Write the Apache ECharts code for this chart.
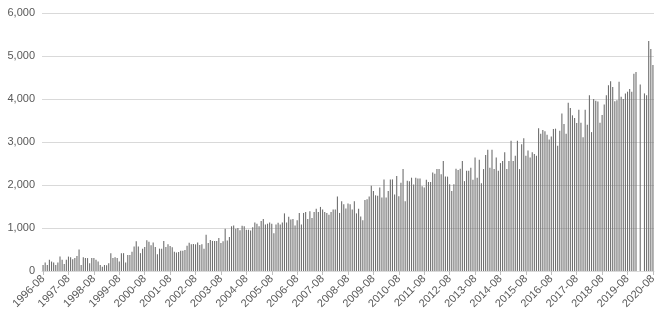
<!DOCTYPE html>
<html>
<head>
<meta charset="utf-8">
<script src="https://cdn.jsdelivr.net/npm/echarts@6/dist/echarts.min.js"></script>
<style>
html,body{margin:0;padding:0;background:#fff;}
#chart{width:661px;height:324px;}
</style>
</head>
<body>
<div id="chart"></div>
<script>
// Monthly values, 1996-08 .. 2020-08 (null = no bar)
var values1996_2000 = [
  140,195,140,260,220,200,140,200,335,260,160,260,
  335,320,275,300,350,500,140,320,300,300,180,300,
  300,260,220,140,100,140,135,180,415,300,320,300,
  220,415,415,195,375,375,450,570,690,570,415,520
];
var values2000_2004 = [
  560,715,680,600,665,560,390,520,520,700,560,620,
  580,550,450,430,440,470,470,490,590,655,620,630,
  620,660,605,620,520,845,650,720,700,700,700,765,
  650,690,980,710,790,1040,1060,980,1000,945,1050,1040
];
var values2004_2008 = [
  960,960,940,1020,1130,1100,1040,1160,1210,1080,1100,1130,
  1100,880,1080,1120,1080,1130,1340,1130,1260,1200,1210,1060,
  1180,1350,1080,1350,1370,1210,1390,1230,1370,1450,1370,1490,
  1430,1370,1350,1310,1370,1430,1430,1730,1350,1620,1550,1455
];
var values2008_2012 = [
  1570,1550,1430,1625,1340,1450,1270,1180,1650,1670,1730,1980,
  1860,1760,1750,1940,1710,2130,1710,1860,2130,2130,1780,2210,
  1740,2050,2370,1625,2100,2090,2170,2010,2170,2150,2150,1970,
  1940,2120,2070,2070,2290,2260,2370,2370,2250,2560,2200,2195
];
var values2012_2016 = [
  2015,1860,2015,2380,2350,2380,2560,2090,2330,2330,2400,2120,
  2640,2170,2585,2040,2370,2700,2820,2400,2820,2370,2640,2330,
  2510,2560,2760,2370,2560,3030,2560,2680,3030,2370,2950,3090,
  2680,2800,2640,2760,2720,2680,3320,3190,3280,3250,3170,3060
];
var values2016_2020 = [
  3130,3300,3310,2910,3260,3660,3420,3190,3910,3790,3620,3560,
  3440,3750,3450,3110,3750,3400,4090,3230,4000,3960,3940,3450,
  3630,3870,4090,4320,4410,4280,3950,3970,4400,4050,4000,4130,
  4170,4230,4170,4590,4630,null,4340,null,4130,4090,5350,5160,
  4790
];
var values = [].concat(values1996_2000, values2000_2004, values2004_2008,
                       values2008_2012, values2012_2016, values2016_2020);

var startYear = 1996, startMonth = 8;
var categories = [];
for (var i = 0; i < values.length; i++) {
  var mm = startMonth - 1 + i;
  var y = startYear + Math.floor(mm / 12);
  var m = (mm % 12) + 1;
  categories.push(y + '-' + (m < 10 ? '0' + m : m));
}
var yTicks = [0, 1000, 2000, 3000, 4000, 5000, 6000];

var chart = echarts.init(document.getElementById('chart'), null, {renderer: 'canvas'});
chart.setOption({
  animation: false,
  backgroundColor: '#ffffff',
  grid: {left: 42, right: 7, top: 13, bottom: 53, containLabel: false},
  xAxis: {
    type: 'category',
    data: categories,
    boundaryGap: true,
    axisLine: {show: true, lineStyle: {color: '#d9d9d9', width: 1}},
    axisTick: {show: true, alignWithLabel: true, interval: 11, length: 4, lineStyle: {color: '#bfbfbf'}},
    axisLabel: {
      interval: 11, rotate: 45, fontSize: 11, color: '#595959',
      fontFamily: 'Liberation Sans, Arial, sans-serif', margin: 6
    },
    splitLine: {show: false}
  },
  yAxis: {
    type: 'value',
    min: yTicks[0], max: yTicks[yTicks.length - 1], interval: 1000,
    axisLine: {show: false},
    axisTick: {show: false},
    axisLabel: {
      fontSize: 11, color: '#595959', margin: 7,
      fontFamily: 'Liberation Sans, Arial, sans-serif',
      formatter: function (v) { return v.toLocaleString('en-US'); }
    },
    splitLine: {lineStyle: {color: '#d9d9d9', width: 1}}
  },
  series: [{
    type: 'bar',
    data: values,
    barWidth: 1.1,
    itemStyle: {color: '#6f6f6f'},
    large: false
  }]
});
</script>
</body>
</html>
